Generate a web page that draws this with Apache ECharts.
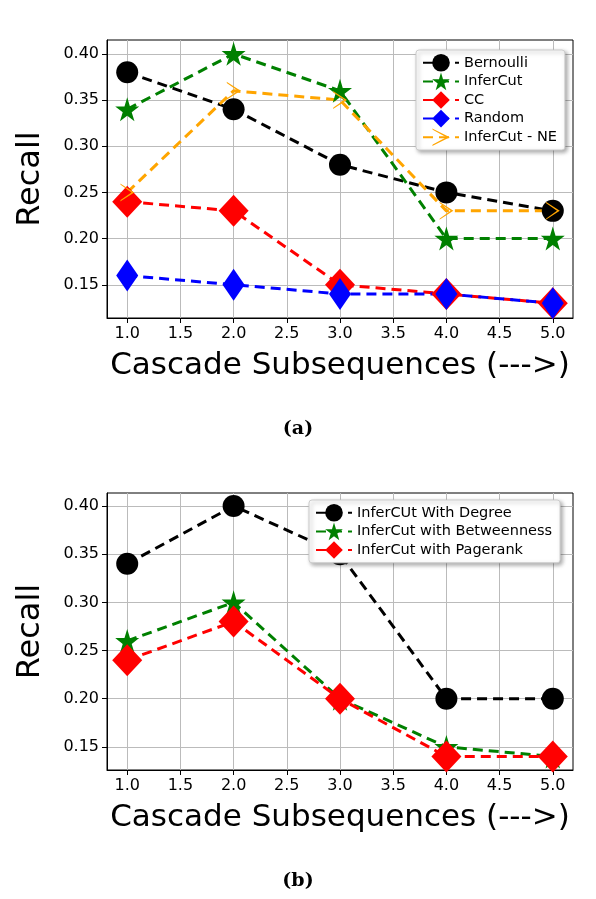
<!DOCTYPE html><html><head><meta charset="utf-8"><script src="https://cdn.jsdelivr.net/npm/echarts@6/dist/echarts.min.js"></script>
<style>html,body{margin:0;padding:0;background:#fff}#c{width:596px;height:899px}</style></head><body><div id="c"></div><script>
const xs=[1,2,3,4,5];
const xTicks=[1.0,1.5,2.0,2.5,3.0,3.5,4.0,4.5,5.0];
const yTicks=[0.15,0.20,0.25,0.30,0.35,0.40];
const bernoulli=[0.38,0.34,0.28,0.25,0.23];
const inferCut=[0.34,0.40,0.36,0.20,0.20];
const cc=[0.24,0.23,0.15,0.14,0.13];
const random=[0.16,0.15,0.14,0.14,0.13];
const inferCutNE=[0.25,0.36,0.35,0.23,0.23];
const degree=[0.34,0.40,0.35,0.20,0.20];
const betweenness=[0.26,0.30,0.20,0.15,0.14];
const pagerank=[0.24,0.28,0.20,0.14,0.14];
const F='DejaVu Sans';
const ch=echarts.init(document.getElementById('c'));
function xa(i){return {type:'value',gridIndex:i,min:0.81,max:5.19,name:'Cascade Subsequences (--->)',nameLocation:'middle',nameGap:32,nameTextStyle:{fontFamily:F,fontSize:31,color:'#000'},
 axisLine:{lineStyle:{color:'#000'}},axisTick:{show:true,customValues:xTicks,length:5,lineStyle:{color:'#000'}},
 axisLabel:{customValues:xTicks,formatter:v=>v.toFixed(1),fontFamily:F,fontSize:16,color:'#000'},splitLine:{show:true,lineStyle:{color:'#bbb'}}};}
function ya(i,min,max){return {type:'value',gridIndex:i,min:min,max:max,name:'Recall',nameLocation:'middle',nameGap:60,nameTextStyle:{fontFamily:F,fontSize:32,color:'#000'},
 axisLine:{lineStyle:{color:'#000'}},axisTick:{show:true,customValues:yTicks,length:5,lineStyle:{color:'#000'}},
 axisLabel:{customValues:yTicks,formatter:v=>v.toFixed(2),fontFamily:F,fontSize:16,color:'#000'},splitLine:{show:true,lineStyle:{color:'#bbb'}}};}
function s(name,d,color,sym,size,i){return {name,type:'line',xAxisIndex:i,yAxisIndex:i,data:xs.map((x,k)=>[x,d[k]]),symbol:sym,symbolSize:size,
 lineStyle:{color,width:3,type:[10,6]},itemStyle:{color,borderWidth:0},animation:false,z:3};}
const tri='path://M0,0L10,5L0,10L0.3,9.2L8,5L0.3,0.8Z';
const star='path://M50,0L61,35L98,35L68,57L79,91L50,70L21,91L32,57L2,35L39,35Z';
const leg={orient:'vertical',itemWidth:36,itemHeight:22,itemGap:1,textStyle:{fontFamily:F,fontSize:14.5,color:'#000'},backgroundColor:'#fff',borderColor:'#ccc',borderWidth:1,borderRadius:3,padding:[4,8,4,6],shadowBlur:4,shadowColor:'rgba(0,0,0,0.35)',shadowOffsetX:2,shadowOffsetY:2};
ch.setOption({animation:false,
grid:[{left:107,top:40,width:466,height:278,show:true,borderColor:'#000',borderWidth:1},{left:107,top:493,width:466,height:277,show:true,borderColor:'#000',borderWidth:1}],
xAxis:[xa(0),xa(1)],yAxis:[ya(0,0.114,0.415),ya(1,0.126,0.4135)],
legend:[Object.assign({},leg,{left:416,top:50,data:['Bernoulli','InferCut','CC','Random','InferCut - NE']}),
 Object.assign({},leg,{left:309,top:500,data:['InferCUt With Degree','InferCut with Betweenness','InferCut with Pagerank']})],
series:[s('Bernoulli',bernoulli,'#000','circle',22,0),s('InferCut',inferCut,'#008000',star,24,0),
 s('CC',cc,'#ff0000','diamond',[30,32],0),s('Random',random,'#0000ff','diamond',[22,32],0),s('InferCut - NE',inferCutNE,'#ffa500',tri,[14,18],0),
 s('InferCUt With Degree',degree,'#000','circle',22,1),s('InferCut with Betweenness',betweenness,'#008000',star,24,1),
 s('InferCut with Pagerank',pagerank,'#ff0000','diamond',[30,32],1)],
graphic:[{type:'text',left:'center',top:420,style:{text:'(a)',font:'bold 19px "DejaVu Serif"',fill:'#000'}},
 {type:'text',left:'center',top:872,style:{text:'(b)',font:'bold 19px "DejaVu Serif"',fill:'#000'}}]});
</script></body></html>
